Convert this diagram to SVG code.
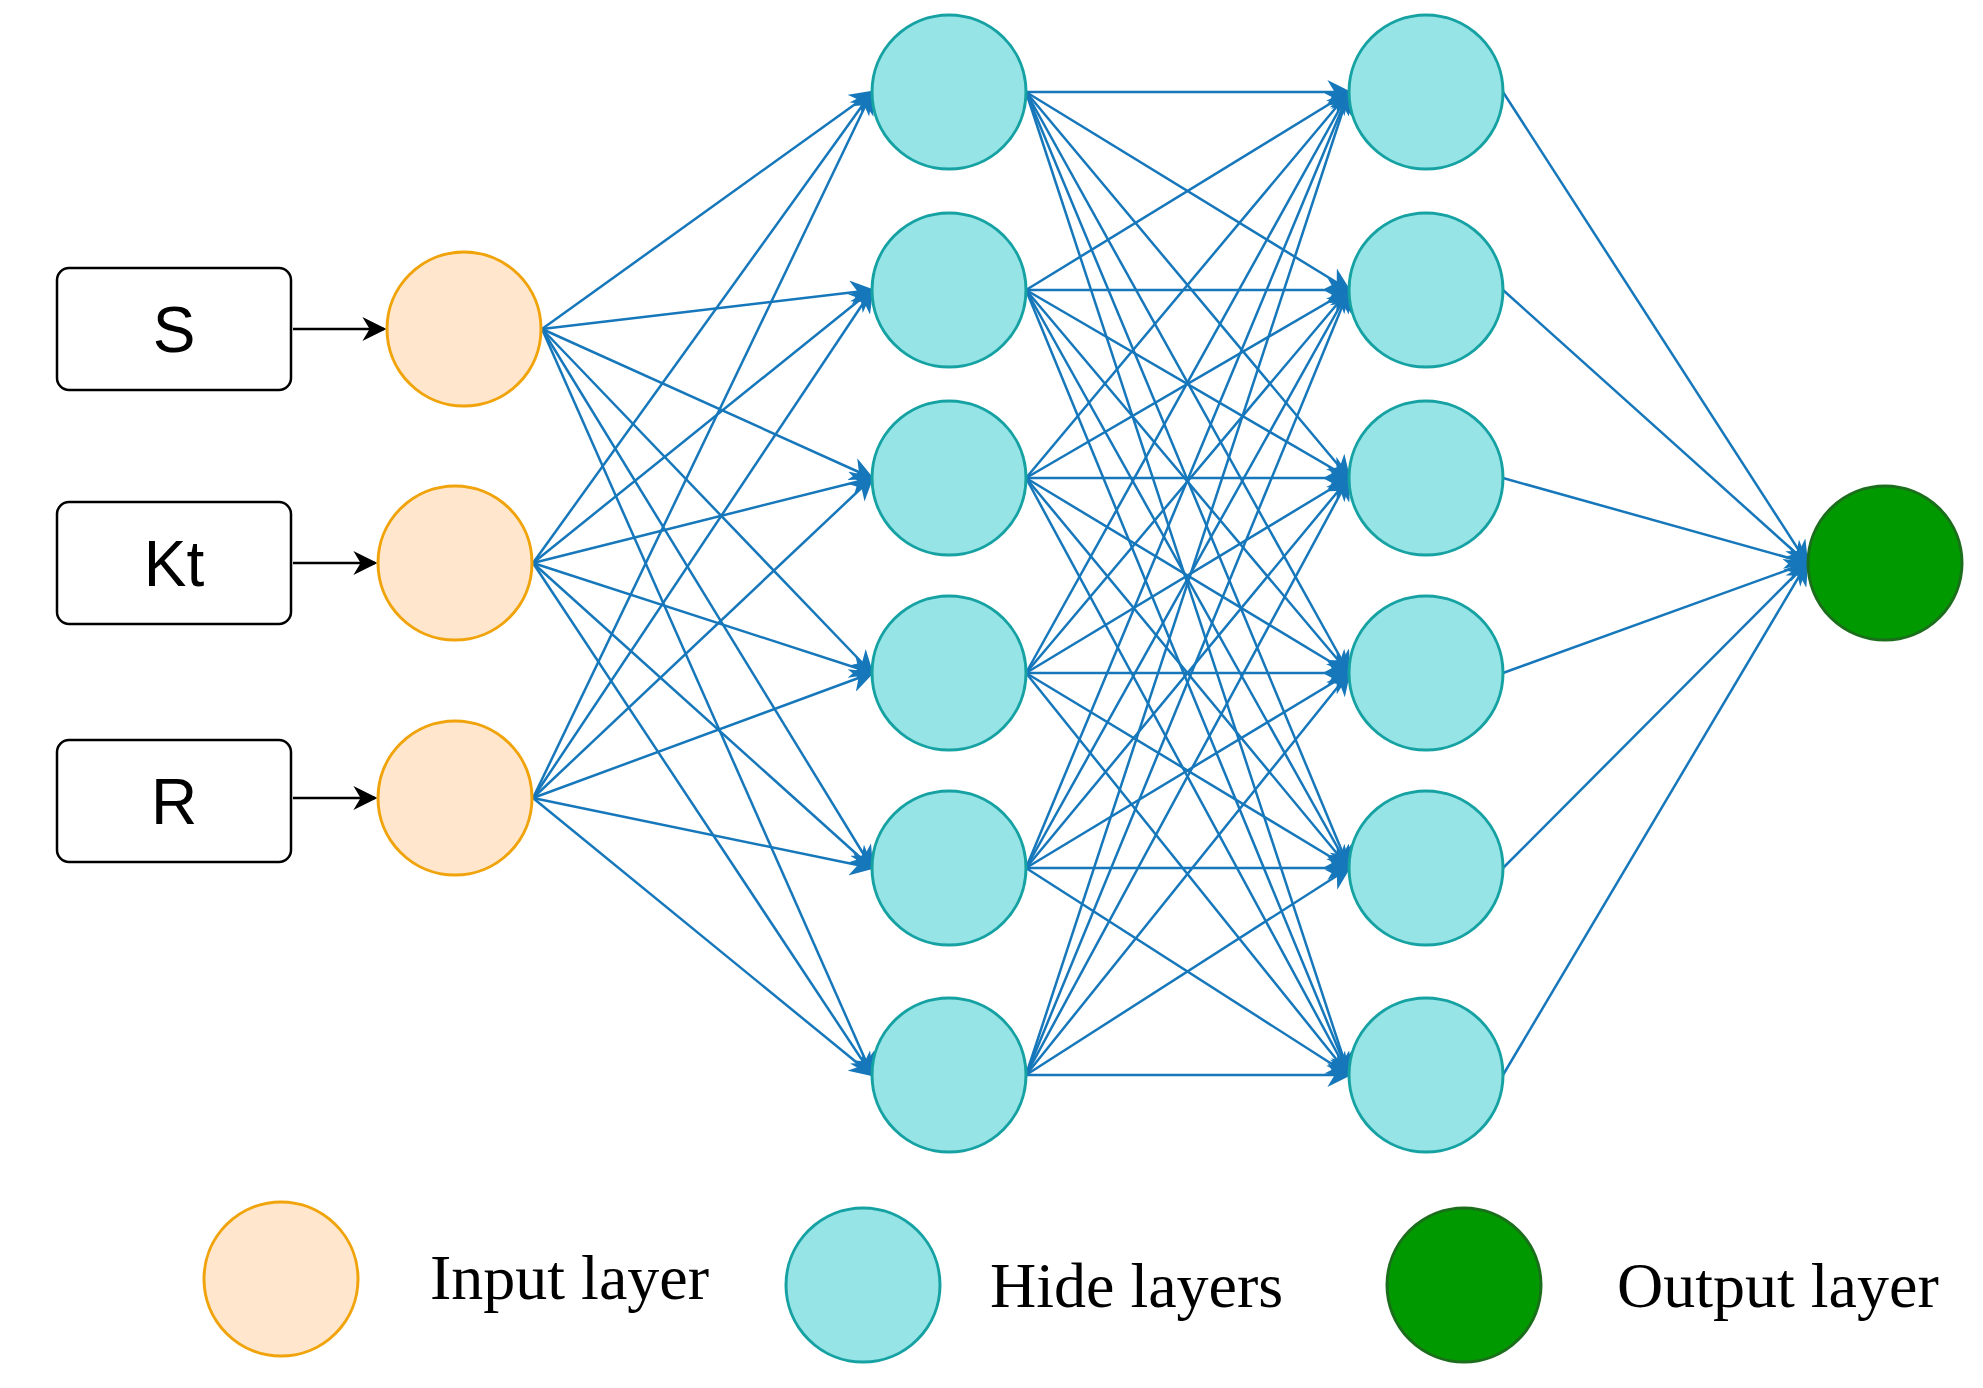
<svg xmlns="http://www.w3.org/2000/svg" width="1983" height="1388" viewBox="0 0 1983 1388">
<style>
.e{stroke:#1677bb;stroke-width:2.5;fill:none;marker-end:url(#ab)}
.k{stroke:#000;stroke-width:2.5;fill:none;marker-end:url(#ak)}
.in{fill:#ffe6cc;stroke:#f0a30a;stroke-width:3}
.hd{fill:#96e4e6;stroke:#16a1a3;stroke-width:3}
.out{fill:#009900;stroke:#1b6e1b;stroke-width:3}
.box{fill:#fff;stroke:#000;stroke-width:2.5}
.bt{font-family:"Liberation Sans",Arial,sans-serif;font-size:64px;text-anchor:middle}
.lt{font-family:"Liberation Serif","Times New Roman",serif;font-size:64px}
</style>
<defs>
<marker id="ab" viewBox="0 0 10 10" refX="9" refY="5" markerWidth="24" markerHeight="24" markerUnits="userSpaceOnUse" orient="auto"><path d="M0,0 L10,5 L0,10 L3,5 z" fill="#1677bb"/></marker>
<marker id="ak" viewBox="0 0 10 10" refX="9" refY="5" markerWidth="24" markerHeight="24" markerUnits="userSpaceOnUse" orient="auto"><path d="M0,0 L10,5 L0,10 L3,5 z" fill="#000"/></marker>
</defs>
<g id="connectors">
<line class="k" x1="293" y1="329" x2="384" y2="329"/>
<line class="k" x1="293" y1="563" x2="375" y2="563"/>
<line class="k" x1="293" y1="798" x2="375" y2="798"/>
<g id="i-h1">
<line class="e" x1="542" y1="329" x2="872" y2="92"/><line class="e" x1="542" y1="329" x2="872" y2="290"/><line class="e" x1="542" y1="329" x2="872" y2="478"/><line class="e" x1="542" y1="329" x2="872" y2="673"/><line class="e" x1="542" y1="329" x2="872" y2="868"/><line class="e" x1="542" y1="329" x2="872" y2="1075"/>
<line class="e" x1="533" y1="563" x2="872" y2="92"/><line class="e" x1="533" y1="563" x2="872" y2="290"/><line class="e" x1="533" y1="563" x2="872" y2="478"/><line class="e" x1="533" y1="563" x2="872" y2="673"/><line class="e" x1="533" y1="563" x2="872" y2="868"/><line class="e" x1="533" y1="563" x2="872" y2="1075"/>
<line class="e" x1="533" y1="798" x2="872" y2="92"/><line class="e" x1="533" y1="798" x2="872" y2="290"/><line class="e" x1="533" y1="798" x2="872" y2="478"/><line class="e" x1="533" y1="798" x2="872" y2="673"/><line class="e" x1="533" y1="798" x2="872" y2="868"/><line class="e" x1="533" y1="798" x2="872" y2="1075"/>
</g>
<g id="h1-h2">
<line class="e" x1="1026" y1="92" x2="1349" y2="92"/><line class="e" x1="1026" y1="92" x2="1349" y2="290"/><line class="e" x1="1026" y1="92" x2="1349" y2="478"/><line class="e" x1="1026" y1="92" x2="1349" y2="673"/><line class="e" x1="1026" y1="92" x2="1349" y2="868"/><line class="e" x1="1026" y1="92" x2="1349" y2="1075"/>
<line class="e" x1="1026" y1="290" x2="1349" y2="92"/><line class="e" x1="1026" y1="290" x2="1349" y2="290"/><line class="e" x1="1026" y1="290" x2="1349" y2="478"/><line class="e" x1="1026" y1="290" x2="1349" y2="673"/><line class="e" x1="1026" y1="290" x2="1349" y2="868"/><line class="e" x1="1026" y1="290" x2="1349" y2="1075"/>
<line class="e" x1="1026" y1="478" x2="1349" y2="92"/><line class="e" x1="1026" y1="478" x2="1349" y2="290"/><line class="e" x1="1026" y1="478" x2="1349" y2="478"/><line class="e" x1="1026" y1="478" x2="1349" y2="673"/><line class="e" x1="1026" y1="478" x2="1349" y2="868"/><line class="e" x1="1026" y1="478" x2="1349" y2="1075"/>
<line class="e" x1="1026" y1="673" x2="1349" y2="92"/><line class="e" x1="1026" y1="673" x2="1349" y2="290"/><line class="e" x1="1026" y1="673" x2="1349" y2="478"/><line class="e" x1="1026" y1="673" x2="1349" y2="673"/><line class="e" x1="1026" y1="673" x2="1349" y2="868"/><line class="e" x1="1026" y1="673" x2="1349" y2="1075"/>
<line class="e" x1="1026" y1="868" x2="1349" y2="92"/><line class="e" x1="1026" y1="868" x2="1349" y2="290"/><line class="e" x1="1026" y1="868" x2="1349" y2="478"/><line class="e" x1="1026" y1="868" x2="1349" y2="673"/><line class="e" x1="1026" y1="868" x2="1349" y2="868"/><line class="e" x1="1026" y1="868" x2="1349" y2="1075"/>
<line class="e" x1="1026" y1="1075" x2="1349" y2="92"/><line class="e" x1="1026" y1="1075" x2="1349" y2="290"/><line class="e" x1="1026" y1="1075" x2="1349" y2="478"/><line class="e" x1="1026" y1="1075" x2="1349" y2="673"/><line class="e" x1="1026" y1="1075" x2="1349" y2="868"/><line class="e" x1="1026" y1="1075" x2="1349" y2="1075"/>
</g>
<g id="h2-o">
<line class="e" x1="1503" y1="92" x2="1807" y2="563"/><line class="e" x1="1503" y1="290" x2="1807" y2="563"/><line class="e" x1="1503" y1="478" x2="1807" y2="563"/><line class="e" x1="1503" y1="673" x2="1807" y2="563"/><line class="e" x1="1503" y1="868" x2="1807" y2="563"/><line class="e" x1="1503" y1="1075" x2="1807" y2="563"/>
</g>
</g>
<g id="box-S"><rect class="box" x="57" y="268" width="234" height="122" rx="12"/><text class="bt" x="174" y="352">S</text></g>
<g id="box-Kt"><rect class="box" x="57" y="502" width="234" height="122" rx="12"/><text class="bt" x="174" y="586">Kt</text></g>
<g id="box-R"><rect class="box" x="57" y="740" width="234" height="122" rx="12"/><text class="bt" x="174" y="824">R</text></g>
<g id="in1"><circle class="in" cx="464" cy="329" r="77"/></g>
<g id="in2"><circle class="in" cx="455" cy="563" r="77"/></g>
<g id="in3"><circle class="in" cx="455" cy="798" r="77"/></g>
<g id="h1">
<circle class="hd" cx="949" cy="92" r="77"/><circle class="hd" cx="949" cy="290" r="77"/><circle class="hd" cx="949" cy="478" r="77"/><circle class="hd" cx="949" cy="673" r="77"/><circle class="hd" cx="949" cy="868" r="77"/><circle class="hd" cx="949" cy="1075" r="77"/>
</g>
<g id="h2">
<circle class="hd" cx="1426" cy="92" r="77"/><circle class="hd" cx="1426" cy="290" r="77"/><circle class="hd" cx="1426" cy="478" r="77"/><circle class="hd" cx="1426" cy="673" r="77"/><circle class="hd" cx="1426" cy="868" r="77"/><circle class="hd" cx="1426" cy="1075" r="77"/>
</g>
<g id="out"><circle class="out" cx="1885" cy="563" r="77"/></g>
<g id="legend">
<circle class="in" cx="281" cy="1279" r="77"/><text class="lt" x="430" y="1299">Input layer</text>
<circle class="hd" cx="863" cy="1285" r="77"/><text class="lt" x="990" y="1307">Hide layers</text>
<circle class="out" cx="1464" cy="1285" r="77"/><text class="lt" x="1617" y="1307">Output layer</text>
</g>
</svg>
